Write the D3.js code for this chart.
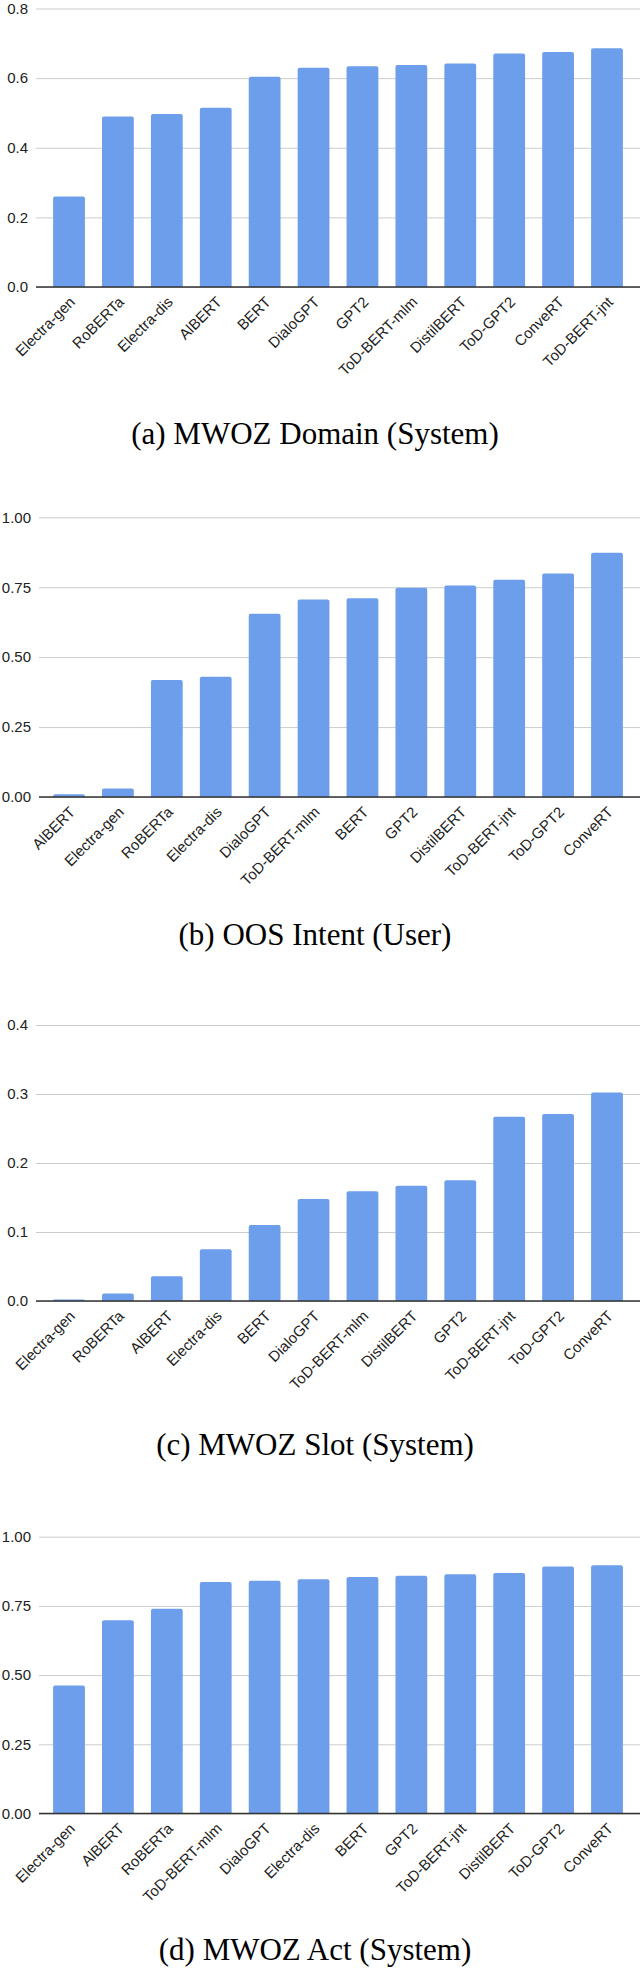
<!DOCTYPE html>
<html><head><meta charset="utf-8">
<script src="https://cdn.jsdelivr.net/npm/d3@7"></script>
<style>body{margin:0;background:#fff}</style>
</head><body><svg id="c" width="642" height="1970"></svg>
<script>
// ---- data ----
const categoriesA = ["Electra-gen","RoBERTa","Electra-dis","AlBERT","BERT","DialoGPT","GPT2","ToD-BERT-mlm","DistilBERT","ToD-GPT2","ConveRT","ToD-BERT-jnt"];
const valuesA = [0.260,0.490,0.497,0.515,0.604,0.630,0.634,0.638,0.642,0.671,0.675,0.686];
const ticksA = [0,0.2,0.4,0.6,0.8];
const titleA = "(a) MWOZ Domain (System)";

const categoriesB = ["AlBERT","Electra-gen","RoBERTa","Electra-dis","DialoGPT","ToD-BERT-mlm","BERT","GPT2","DistilBERT","ToD-BERT-jnt","ToD-GPT2","ConveRT"];
const valuesB = [0.010,0.030,0.418,0.430,0.655,0.706,0.711,0.748,0.756,0.777,0.799,0.873];
const ticksB = [0,0.25,0.5,0.75,1.0];
const titleB = "(b) OOS Intent (User)";

const categoriesC = ["Electra-gen","RoBERTa","AlBERT","Electra-dis","BERT","DialoGPT","ToD-BERT-mlm","DistilBERT","GPT2","ToD-BERT-jnt","ToD-GPT2","ConveRT"];
const valuesC = [0.002,0.011,0.036,0.075,0.110,0.148,0.159,0.167,0.175,0.267,0.271,0.302];
const ticksC = [0,0.1,0.2,0.3,0.4];
const titleC = "(c) MWOZ Slot (System)";

const categoriesD = ["Electra-gen","AlBERT","RoBERTa","ToD-BERT-mlm","DialoGPT","Electra-dis","BERT","GPT2","ToD-BERT-jnt","DistilBERT","ToD-GPT2","ConveRT"];
const valuesD = [0.462,0.698,0.740,0.836,0.841,0.846,0.854,0.859,0.864,0.869,0.892,0.897];
const ticksD = [0,0.25,0.5,0.75,1.0];
const titleD = "(d) MWOZ Act (System)";

// ---- layout ----
const RIGHT = 640;
const panels = [
  {cats:categoriesA, vals:valuesA, ticks:ticksA, fmt:".1f", title:titleA, left:36, top:8.5, base:287, titleY:444},
  {cats:categoriesB, vals:valuesB, ticks:ticksB, fmt:".2f", title:titleB, left:39, top:517.3, base:797, titleY:945},
  {cats:categoriesC, vals:valuesC, ticks:ticksC, fmt:".1f", title:titleC, left:36, top:1025, base:1301, titleY:1455},
  {cats:categoriesD, vals:valuesD, ticks:ticksD, fmt:".2f", title:titleD, left:39, top:1536.7, base:1813.5, titleY:1960}
];
const BAR = "#6d9eeb", TXT = "#222222", SANS = "'Liberation Sans', Arial, sans-serif", SERIF = "'Liberation Serif', 'Times New Roman', serif";

const svg = d3.select("#c");

function topRounded(x0, y0, w, h, r) {
  r = Math.min(r, h, w / 2);
  const p = d3.path();
  p.moveTo(x0, y0 + h);
  p.lineTo(x0, y0 + r);
  p.arcTo(x0, y0, x0 + r, y0, r);
  p.lineTo(x0 + w - r, y0);
  p.arcTo(x0 + w, y0, x0 + w, y0 + r, r);
  p.lineTo(x0 + w, y0 + h);
  p.closePath();
  return p.toString();
}

panels.forEach(p => {
  const x = d3.scaleBand().domain(p.cats).range([36, RIGHT]).paddingInner(0.35).paddingOuter(0.35);
  const y = d3.scaleLinear().domain([0, d3.max(p.ticks)]).range([p.base, p.top]);
  const g = svg.append("g");

  const ax = g.append("g").attr("transform", `translate(${p.left},0)`)
    .call(d3.axisLeft(y).tickValues(p.ticks).tickSize(-(RIGHT - p.left)).tickPadding(8).tickFormat(d3.format(p.fmt)));
  ax.select(".domain").remove();
  ax.selectAll(".tick line").attr("stroke", "#cccccc").attr("stroke-width", 1);
  ax.selectAll(".tick text").attr("fill", TXT).style("font-family", SANS).style("font-size", "15px");

  g.selectAll("path.bar").data(p.cats).join("path").attr("class", "bar")
    .attr("fill", BAR)
    .attr("d", (c, i) => topRounded(x(c), y(p.vals[i]), x.bandwidth(), y(0) - y(p.vals[i]), 2));

  g.append("line").attr("x1", p.left).attr("x2", RIGHT).attr("y1", y(0)).attr("y2", y(0))
    .attr("stroke", "#333333").attr("stroke-width", 1.3);

  g.selectAll("text.xl").data(p.cats).join("text").attr("class", "xl")
    .attr("transform", c => `translate(${x(c) + x.bandwidth() / 2 + 7},${y(0) + 16}) rotate(-45)`)
    .attr("text-anchor", "end")
    .attr("fill", TXT).style("font-family", SANS).style("font-size", "15px")
    .text(c => c);

  svg.append("text").attr("x", 315).attr("y", p.titleY).attr("text-anchor", "middle")
    .attr("fill", "#000").style("font-family", SERIF).style("font-size", "31px")
    .text(p.title);
});
</script>
</body></html>
